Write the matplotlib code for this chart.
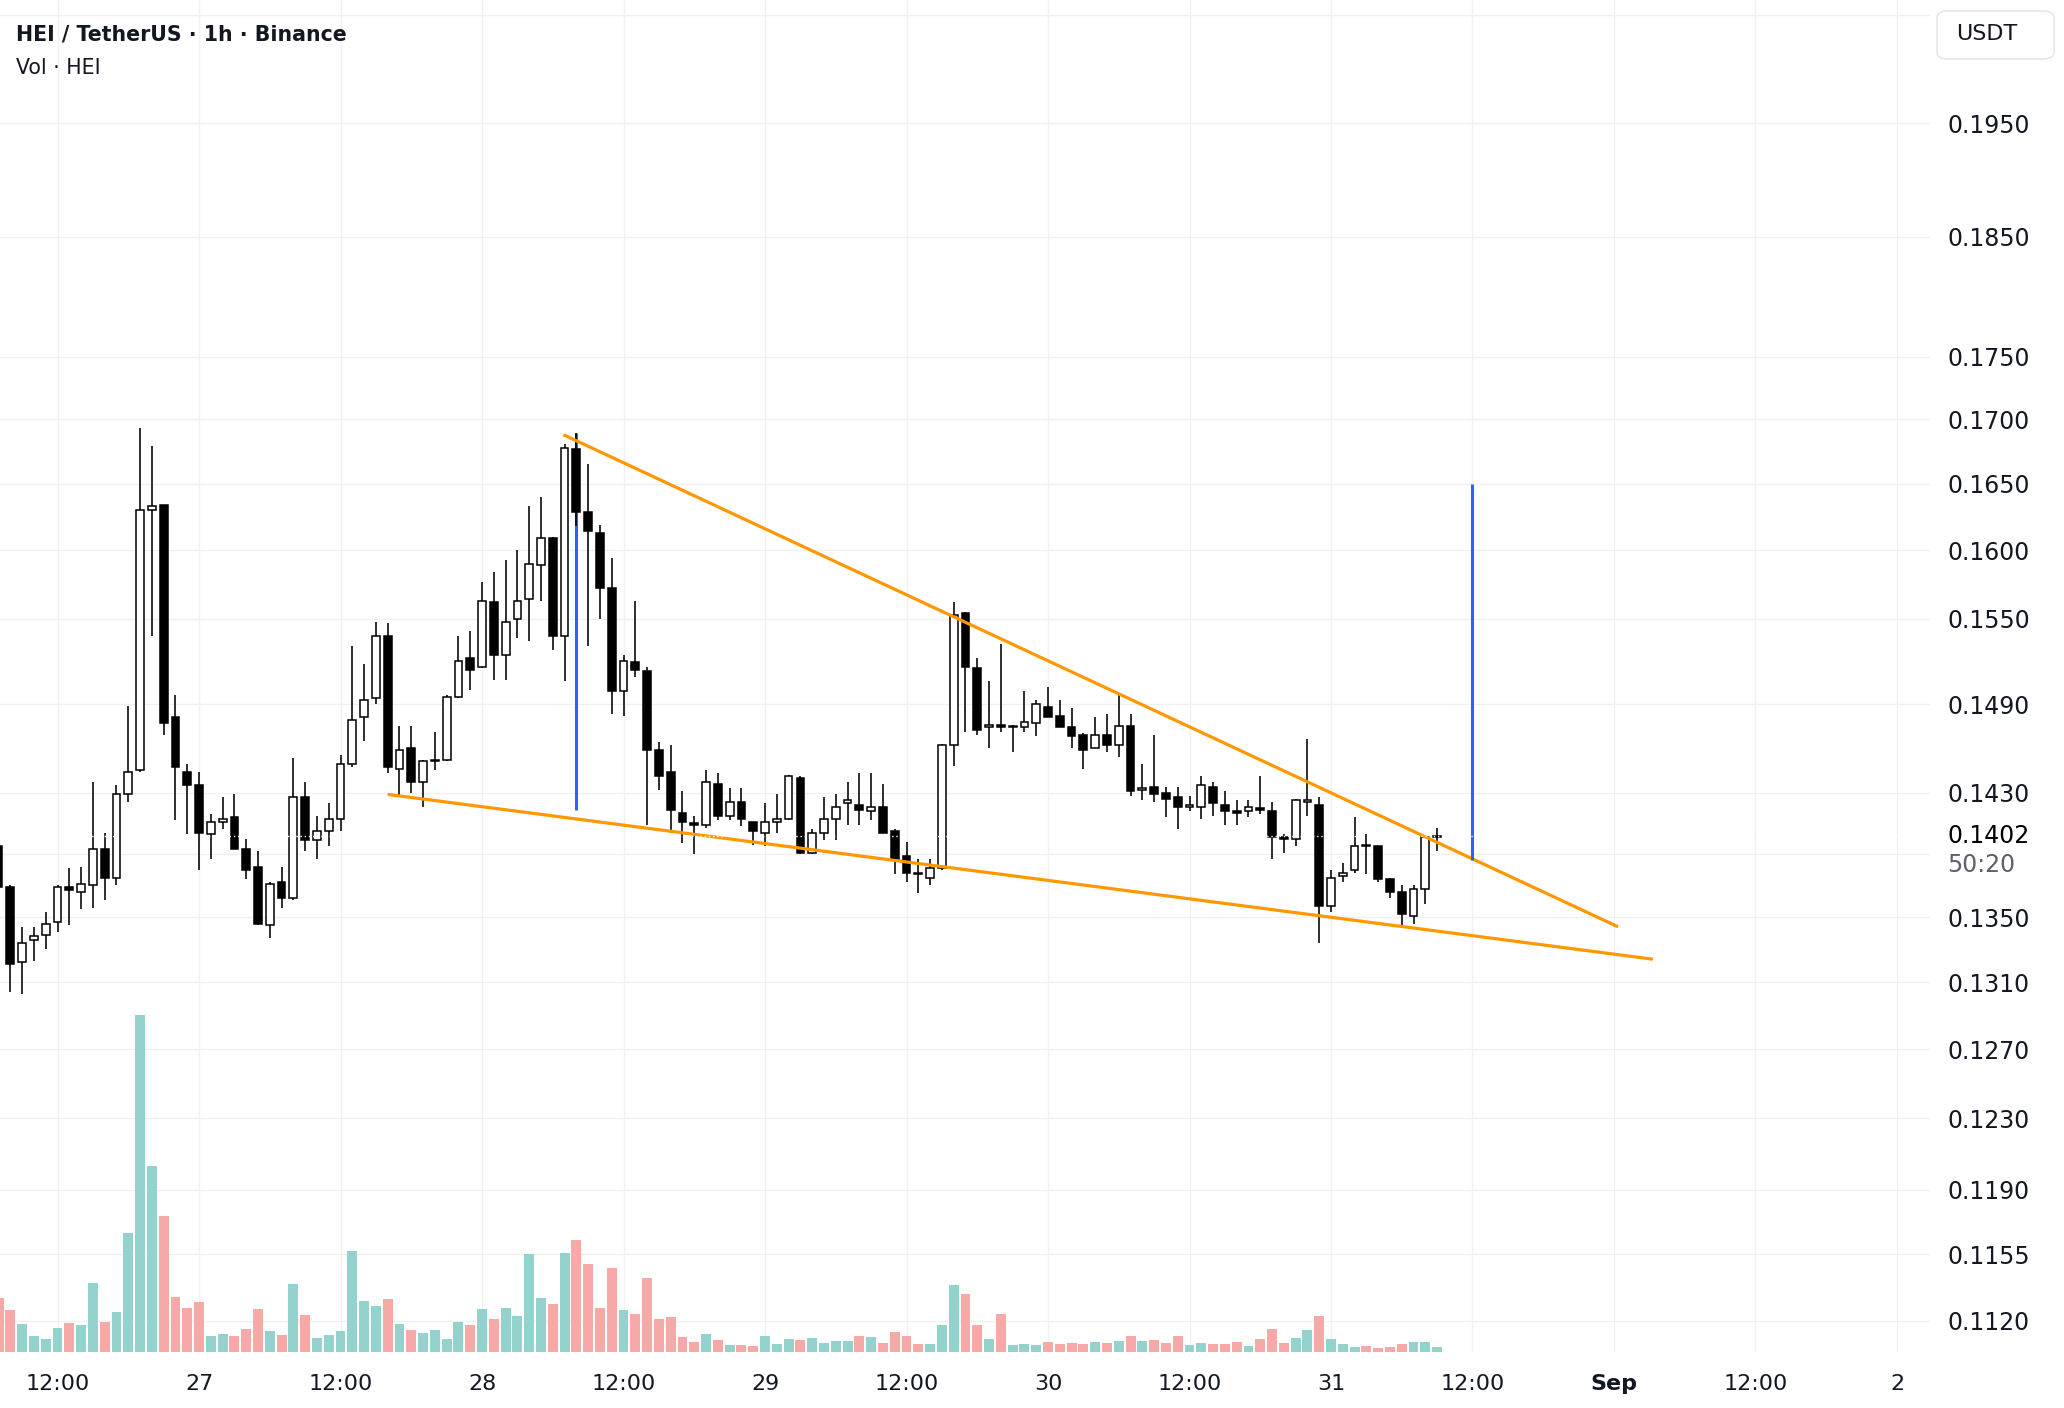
import numpy as np
import pandas as pd
import matplotlib
matplotlib.use("Agg")
import matplotlib.pyplot as plt
from matplotlib.patches import FancyBboxPatch
from matplotlib.ticker import NullLocator, NullFormatter, FixedLocator
from matplotlib.transforms import blended_transform_factory

# ---------------- data (HEI / USDT, 1h, Binance) ----------------
first_bar = "2024-08-26 07:00"
n_bars = 123
times = pd.date_range(first_bar, periods=n_bars, freq="h")

opens = [0.1395, 0.1369, 0.1322, 0.1336, 0.1339, 0.1347, 0.1369, 0.1366, 0.1370, 0.1393,
         0.1375, 0.1429, 0.1445, 0.1630, 0.1634, 0.1481, 0.1444, 0.1435, 0.1403, 0.1411,
         0.1414, 0.1393, 0.1382, 0.1345, 0.1372, 0.1362, 0.1427, 0.1399, 0.1405, 0.1413,
         0.1449, 0.1481, 0.1494, 0.1538, 0.1446, 0.1460, 0.1437, 0.1451, 0.1452, 0.1495,
         0.1522, 0.1516, 0.1562, 0.1524, 0.1550, 0.1564, 0.1589, 0.1609, 0.1538, 0.1677,
         0.1629, 0.1613, 0.1572, 0.1499, 0.1519, 0.1513, 0.1459, 0.1444, 0.1417, 0.1410,
         0.1409, 0.1436, 0.1415, 0.1424, 0.1411, 0.1404, 0.1411, 0.1413, 0.1440, 0.1391,
         0.1404, 0.1413, 0.1423, 0.1422, 0.1418, 0.1421, 0.1405, 0.1389, 0.1378, 0.1375,
         0.1381, 0.1462, 0.1554, 0.1515, 0.1474, 0.1476, 0.1474, 0.1474, 0.1477, 0.1488,
         0.1482, 0.1474, 0.1469, 0.1460, 0.1469, 0.1462, 0.1475, 0.1432, 0.1434, 0.1430,
         0.1427, 0.1421, 0.1421, 0.1434, 0.1422, 0.1418, 0.1418, 0.1420, 0.1418, 0.1401,
         0.1400, 0.1424, 0.1422, 0.1357, 0.1376, 0.1380, 0.1396, 0.1395, 0.1374, 0.1366,
         0.1351, 0.1368, 0.1401]
highs = [0.1400, 0.1370, 0.1344, 0.1344, 0.1353, 0.1370, 0.1381, 0.1382, 0.1437, 0.1404,
         0.1435, 0.1489, 0.1693, 0.1679, 0.1634, 0.1496, 0.1449, 0.1444, 0.1416, 0.1427,
         0.1429, 0.1400, 0.1392, 0.1372, 0.1382, 0.1453, 0.1437, 0.1415, 0.1423, 0.1455,
         0.1531, 0.1518, 0.1548, 0.1547, 0.1475, 0.1475, 0.1452, 0.1471, 0.1496, 0.1538,
         0.1541, 0.1577, 0.1584, 0.1593, 0.1600, 0.1633, 0.1640, 0.1610, 0.1681, 0.1689,
         0.1665, 0.1619, 0.1594, 0.1524, 0.1563, 0.1516, 0.1464, 0.1462, 0.1431, 0.1415,
         0.1445, 0.1443, 0.1433, 0.1433, 0.1411, 0.1423, 0.1429, 0.1442, 0.1441, 0.1406,
         0.1427, 0.1429, 0.1437, 0.1443, 0.1443, 0.1436, 0.1406, 0.1398, 0.1387, 0.1387,
         0.1463, 0.1562, 0.1555, 0.1522, 0.1506, 0.1532, 0.1476, 0.1499, 0.1493, 0.1502,
         0.1493, 0.1487, 0.1470, 0.1481, 0.1483, 0.1496, 0.1483, 0.1449, 0.1469, 0.1434,
         0.1434, 0.1428, 0.1441, 0.1437, 0.1431, 0.1425, 0.1425, 0.1441, 0.1424, 0.1403,
         0.1426, 0.1466, 0.1427, 0.1380, 0.1384, 0.1414, 0.1403, 0.1395, 0.1375, 0.1370,
         0.1370, 0.1402, 0.1407]
lows = [0.1366, 0.1304, 0.1303, 0.1323, 0.1330, 0.1341, 0.1345, 0.1355, 0.1356, 0.1361,
        0.1370, 0.1424, 0.1444, 0.1538, 0.1469, 0.1412, 0.1403, 0.1380, 0.1387, 0.1406,
        0.1393, 0.1374, 0.1345, 0.1337, 0.1356, 0.1361, 0.1392, 0.1387, 0.1395, 0.1405,
        0.1447, 0.1465, 0.1490, 0.1443, 0.1427, 0.1430, 0.1421, 0.1445, 0.1451, 0.1494,
        0.1500, 0.1515, 0.1507, 0.1507, 0.1536, 0.1534, 0.1563, 0.1528, 0.1506, 0.1618,
        0.1531, 0.1550, 0.1483, 0.1482, 0.1509, 0.1409, 0.1432, 0.1404, 0.1397, 0.1390,
        0.1407, 0.1412, 0.1412, 0.1408, 0.1396, 0.1395, 0.1404, 0.1412, 0.1390, 0.1390,
        0.1399, 0.1399, 0.1409, 0.1409, 0.1412, 0.1404, 0.1377, 0.1372, 0.1365, 0.1370,
        0.1380, 0.1448, 0.1471, 0.1469, 0.1460, 0.1471, 0.1457, 0.1471, 0.1468, 0.1481,
        0.1474, 0.1460, 0.1446, 0.1460, 0.1457, 0.1454, 0.1428, 0.1425, 0.1424, 0.1414,
        0.1406, 0.1418, 0.1413, 0.1415, 0.1409, 0.1409, 0.1414, 0.1416, 0.1387, 0.1391,
        0.1395, 0.1415, 0.1334, 0.1353, 0.1372, 0.1378, 0.1377, 0.1372, 0.1362, 0.1344,
        0.1346, 0.1358, 0.1392]
closes = [0.1369, 0.1321, 0.1334, 0.1338, 0.1346, 0.1369, 0.1367, 0.1371, 0.1393, 0.1375,
          0.1429, 0.1444, 0.1630, 0.1633, 0.1477, 0.1447, 0.1435, 0.1404, 0.1411, 0.1413,
          0.1393, 0.1380, 0.1346, 0.1371, 0.1362, 0.1427, 0.1399, 0.1405, 0.1413, 0.1449,
          0.1479, 0.1493, 0.1538, 0.1447, 0.1459, 0.1437, 0.1451, 0.1452, 0.1495, 0.1520,
          0.1514, 0.1563, 0.1524, 0.1548, 0.1563, 0.1590, 0.1609, 0.1538, 0.1678, 0.1629,
          0.1614, 0.1572, 0.1499, 0.1520, 0.1514, 0.1459, 0.1441, 0.1419, 0.1411, 0.1409,
          0.1437, 0.1415, 0.1424, 0.1413, 0.1405, 0.1411, 0.1413, 0.1441, 0.1391, 0.1404,
          0.1413, 0.1421, 0.1425, 0.1419, 0.1421, 0.1404, 0.1387, 0.1378, 0.1377, 0.1381,
          0.1462, 0.1553, 0.1516, 0.1472, 0.1476, 0.1474, 0.1475, 0.1478, 0.1490, 0.1481,
          0.1474, 0.1468, 0.1459, 0.1469, 0.1462, 0.1475, 0.1431, 0.1433, 0.1429, 0.1426,
          0.1421, 0.1422, 0.1435, 0.1423, 0.1418, 0.1417, 0.1421, 0.1419, 0.1401, 0.1400,
          0.1425, 0.1425, 0.1357, 0.1375, 0.1378, 0.1395, 0.1395, 0.1374, 0.1366, 0.1352,
          0.1368, 0.1401, 0.1402]
volumes_k = [163, 126, 84, 48, 39, 72, 87, 81, 207, 90, 120, 357, 1011, 558, 408, 165, 132,
             150, 48, 54, 48, 69, 129, 63, 51, 204, 111, 42, 51, 63, 303, 153, 138, 159, 84,
             66, 57, 66, 39, 90, 81, 129, 99, 132, 108, 294, 162, 144, 297, 336, 264, 132,
             252, 126, 114, 222, 99, 105, 45, 30, 54, 36, 21, 21, 18, 48, 24, 39, 36, 42, 27,
             33, 33, 48, 45, 27, 60, 48, 24, 24, 81, 201, 174, 81, 39, 114, 21, 24, 21, 30,
             24, 27, 24, 30, 27, 33, 48, 33, 36, 27, 48, 21, 27, 24, 24, 30, 18, 39, 69, 27,
             42, 66, 108, 39, 24, 15, 18, 12, 15, 24, 30, 30, 15]

price_ticks = [0.2050, 0.1950, 0.1850, 0.1750, 0.1700, 0.1650, 0.1600, 0.1550, 0.1490,
               0.1430, 0.1390, 0.1350, 0.1310, 0.1270, 0.1230, 0.1190, 0.1155, 0.1120]
price_labels = ["", "0.1950", "0.1850", "0.1750", "0.1700", "0.1650", "0.1600", "0.1550",
                "0.1490", "0.1430", "", "0.1350", "0.1310", "0.1270", "0.1230", "0.1190",
                "0.1155", "0.1120"]
time_ticks = pd.to_datetime(["2024-08-26 12:00", "2024-08-27 00:00", "2024-08-27 12:00",
                             "2024-08-28 00:00", "2024-08-28 12:00", "2024-08-29 00:00",
                             "2024-08-29 12:00", "2024-08-30 00:00", "2024-08-30 12:00",
                             "2024-08-31 00:00", "2024-08-31 12:00", "2024-09-01 00:00",
                             "2024-09-01 12:00", "2024-09-02 00:00"])
time_labels = ["12:00", "27", "12:00", "28", "12:00", "29", "12:00", "30", "12:00", "31",
               "12:00", "Sep", "12:00", "2"]

upper_line_times = pd.to_datetime(["2024-08-28 06:54", "2024-09-01 00:21"])
upper_line_prices = [0.1688, 0.1344]
lower_line_times = pd.to_datetime(["2024-08-27 16:00", "2024-09-01 03:18"])
lower_line_prices = [0.1429, 0.1324]
pole_time = pd.Timestamp("2024-08-28 08:00")
pole_prices = [0.1689, 0.1419]
target_time = pd.Timestamp("2024-08-31 12:00")
target_prices = [0.1386, 0.1650]

last_price = 0.1402
countdown = "50:20"
title = "HEI / TetherUS \u00b7 1h \u00b7 Binance"
subtitle = "Vol \u00b7 HEI"
currency = "USDT"

# ---------------- helpers ----------------
origin = pd.Timestamp("2024-08-26 00:00")


def hours(ts):
    return (pd.DatetimeIndex(ts) - origin) / pd.Timedelta(hours=1)


x = np.asarray(hours(times), dtype=float)
o = np.array(opens); h = np.array(highs); l = np.array(lows); c = np.array(closes)
v = np.array(volumes_k, dtype=float)
up = c >= o

TEXT = "#131722"
GRID = "#f0f0f0"
UP_VOL = "#94d3cd"
DN_VOL = "#f7a9a7"

W, H = 2064, 1408
fig = plt.figure(figsize=(W / 100, H / 100), dpi=100)
fig.patch.set_facecolor("white")

ax_right_px, ax_bottom_px = 1930, 1352
rect = [0, (H - ax_bottom_px) / H, ax_right_px / W, ax_bottom_px / H]
ax_vol = fig.add_axes(rect, zorder=0)
ax = fig.add_axes(rect, zorder=1)
ax.patch.set_alpha(0)

xmin, xmax = 7.12, 170.8
ymin, ymax = 0.11038, 0.20644

# price axes
ax.set_yscale("log")
ax.set_xlim(xmin, xmax)
ax.set_ylim(ymin, ymax)

# volume axes
ax_vol.set_xlim(xmin, xmax)
ax_vol.set_ylim(0, 4056)
ax_vol.set_xticks([]); ax_vol.set_yticks([])
for s in ax_vol.spines.values():
    s.set_visible(False)

# grid (drawn on the back axes)
tx = np.asarray(hours(time_ticks), dtype=float)
for t in tx:
    ax_vol.axvline(t, color=GRID, lw=1.0, zorder=0)
hb = blended_transform_factory(ax_vol.transAxes, ax.transData)
for p in price_ticks:
    ax_vol.plot([0, 1], [p, p], transform=hb, color=GRID, lw=1.0, zorder=0)

# volume bars
ax_vol.bar(x, v, width=0.84, color=np.where(up, UP_VOL, DN_VOL), linewidth=0, zorder=1)

# pole line (behind candles)
ax.plot([hours([pole_time])[0]] * 2, pole_prices, color="#2962ff", lw=2.2, zorder=1.5,
        solid_capstyle="butt")

# candles
ax.vlines(x, l, h, color="black", lw=1.15, zorder=2)
bottoms = np.minimum(o, c)
heights = np.abs(c - o)
ax.bar(x, heights, bottom=bottoms, width=0.66, color=np.where(up, "white", "black"),
       edgecolor="black", linewidth=1.1, zorder=3)

# wedge lines
ax.plot(hours(upper_line_times), upper_line_prices, color="#ff9800", lw=2.3, zorder=4,
        solid_capstyle="butt")
ax.plot(hours(lower_line_times), lower_line_prices, color="#ff9800", lw=2.3, zorder=4,
        solid_capstyle="butt")
ax.plot([hours([target_time])[0]] * 2, target_prices, color="#2962ff", lw=2.2, zorder=4,
        solid_capstyle="butt")

# current price line (white dotted)
ax.axhline(last_price, color="white", lw=1.0, ls=(0, (1, 2)), zorder=5)

# axes styling
for s in ax.spines.values():
    s.set_visible(False)
ax.yaxis.tick_right()
ax.yaxis.set_major_locator(FixedLocator(price_ticks))
ax.set_yticklabels(price_labels)
ax.yaxis.set_minor_locator(NullLocator())
ax.yaxis.set_minor_formatter(NullFormatter())
ax.tick_params(axis="y", length=0, pad=12.5, labelsize=17, labelcolor=TEXT)
ax.set_xticks(tx)
ax.set_xticklabels(time_labels)
ax.tick_params(axis="x", length=0, pad=16, labelsize=16, labelcolor=TEXT)
for lab in ax.get_xticklabels():
    if lab.get_text() == "Sep":
        lab.set_fontweight("bold")
for lab in ax.get_xticklabels() + ax.get_yticklabels():
    lab.set_fontfamily("DejaVu Sans")

# current price label and countdown
ax.annotate(f"{last_price:.4f}", xy=(1, last_price), xycoords=("axes fraction", "data"),
            xytext=(12.5, 0), textcoords="offset points", va="center", ha="left",
            fontsize=17, color="black", family="DejaVu Sans")
ax.annotate(countdown, xy=(1, last_price), xycoords=("axes fraction", "data"),
            xytext=(12.5, -21), textcoords="offset points", va="center", ha="left",
            fontsize=17, color="#5d606b", family="DejaVu Sans")

# title
fig.text(16 / W, 1 - 35 / H, title, fontsize=14.8, fontweight="bold", color=TEXT,
         va="center", ha="left", family="DejaVu Sans")
fig.text(16 / W, 1 - 68 / H, subtitle, fontsize=14.8, color=TEXT,
         va="center", ha="left", family="DejaVu Sans")

# currency box
box = FancyBboxPatch((1937 / W, 1 - 59 / H), 117 / W, 48 / H,
                     boxstyle="round,pad=0,rounding_size=0.005", transform=fig.transFigure,
                     facecolor="white", edgecolor="#e0e3eb", lw=1.0, zorder=10)
fig.patches.append(box)
fig.text(1987 / W, 1 - 34 / H, currency, fontsize=16, color=TEXT, va="center",
         ha="center", family="DejaVu Sans", zorder=11)

fig.savefig("out.png", dpi=100, facecolor="white")
